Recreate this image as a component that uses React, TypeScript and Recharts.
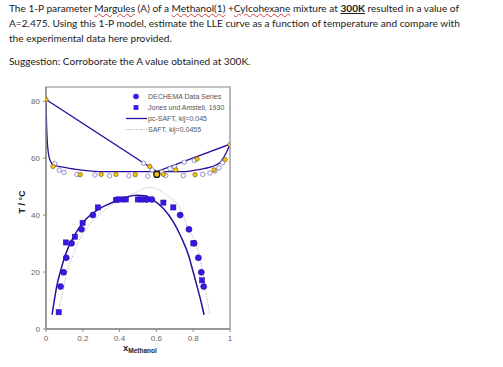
import React from "react";
import { ComposedChart, Line, Scatter, XAxis, YAxis, ReferenceArea, Label } from "recharts";

// x (mole fraction methanol), T (°C)
const pcSaftLLE: [number, number][] = [
  [0.033, 5], [0.045, 10], [0.06, 15.5], [0.078, 20.1], [0.105, 26], [0.15, 32.4],
  [0.204, 37.6], [0.277, 41.7], [0.367, 44.6], [0.44, 46.4], [0.49, 47], [0.54, 46.8],
  [0.575, 45.6], [0.638, 42.3], [0.692, 37.6], [0.738, 31.8], [0.774, 26], [0.8, 20],
  [0.825, 14], [0.843, 9.5], [0.859, 5],
];
const saftLLE: [number, number][] = [
  [0.06, 5], [0.096, 14.3], [0.114, 20.1], [0.141, 25], [0.168, 29.5], [0.222, 35.3],
  [0.304, 41.1], [0.385, 44.6], [0.457, 47], [0.512, 48.7], [0.56, 49.7], [0.6, 49.2],
  [0.656, 47], [0.729, 42.3], [0.774, 35.3], [0.81, 30.6], [0.837, 24.8], [0.855, 19],
  [0.873, 12], [0.89, 5],
];
const pcSaftBubble: [number, number][] = [
  [0, 80.6], [0.003, 72], [0.008, 65], [0.015, 61], [0.025, 58.8], [0.04, 57.6],
  [0.078, 57], [0.15, 56.2], [0.29, 55.3], [0.5, 55.3], [0.75, 55.3], [0.82, 55.9],
  [0.9, 57], [0.946, 58.5], [0.98, 62], [1, 64.9],
];
const pcSaftDew: [number, number][] = [[0, 80.6], [0.602, 55.3], [1, 64.9]];

const dechema: [number, number][] = [
  [0.079, 14.9], [0.096, 19.9], [0.11, 25], [0.139, 30.1], [0.193, 35], [0.255, 40],
  [0.389, 45.5], [0.548, 45.5], [0.575, 45.5], [0.729, 40], [0.777, 35], [0.805, 30.1],
  [0.828, 25], [0.844, 19.9], [0.857, 14.9],
];
const jones: [number, number][] = [
  [0.069, 5.9], [0.108, 30.4], [0.157, 32.4], [0.199, 37.3], [0.282, 42.7], [0.38, 45.3],
  [0.412, 45.5], [0.434, 45.5], [0.499, 45.5], [0.517, 45.5], [0.535, 45.5], [0.638, 44.4],
  [0.692, 42.7], [0.801, 30.1], [0.848, 17.1],
];
const vleOpen: [number, number][] = [
  [0.047, 58.1], [0.072, 55.8], [0.098, 55], [0.168, 54.3], [0.266, 54.1], [0.345, 53.8],
  [0.45, 53.8], [0.553, 53.7], [0.53, 58.2], [0.577, 55.9], [0.63, 55.1], [0.651, 53.9],
  [0.674, 56.3], [0.7, 56.9], [0.747, 53.9], [0.752, 58.6], [0.806, 59.2], [0.852, 54.3],
  [0.891, 54.8], [0.918, 55.5], [0.94, 56.6], [0.96, 58.4],
];
const vleYellow: [number, number][] = [
  [0, 80.6], [0.038, 57.1], [0.186, 54.2], [0.3, 54.3], [0.38, 54.3], [0.485, 54.2],
  [0.564, 57.1], [0.638, 54.3], [0.705, 55.9], [0.81, 54.2], [0.821, 59.7], [0.913, 55.9],
  [0.973, 59.5], [1, 64.7],
];
const azeotrope: [number, number][] = [[0.602, 54.3]];

const xTicks = [0, 0.2, 0.4, 0.6, 0.8, 1];
const yTicks = [0, 20, 40, 60, 80];

const toPts = (arr: [number, number][]) => arr.map(([x, T]) => ({ x, T }));

const LINE = "#2A0E9C";
const tickStyle = { fontSize: 8, fill: "#666", fontFamily: "Liberation Sans, Arial, sans-serif" };

const circleShape = (p: any) => (
  <circle cx={p.cx} cy={p.cy} r={3} fill="#3A17E4" stroke="#24109a" strokeWidth={0.6} />
);
const squareShape = (p: any) => (
  <rect x={p.cx - 2.6} y={p.cy - 2.6} width={5.2} height={5.2} fill="#3A17E4" stroke="#24109a" strokeWidth={0.5} />
);
const openShape = (p: any) => (
  <circle cx={p.cx} cy={p.cy} r={2.2} fill="#fff" stroke="#9490c6" strokeWidth={1} />
);
const yellowShape = (p: any) => (
  <circle cx={p.cx} cy={p.cy} r={2.2} fill="#F4C20F" stroke="#6a5600" strokeWidth={0.6} />
);
const azeoShape = (p: any) => (
  <circle cx={p.cx} cy={p.cy} r={3} fill="#F4C20F" stroke="#111" strokeWidth={1.2} />
);

const legendRows = [
  { name: "DECHEMA Data Series", kind: "circle" },
  { name: "Jones und Amstell, 1930", kind: "square" },
  { name: "pc-SAFT, kij=0.045", kind: "line" },
  { name: "SAFT, kij=0.0455", kind: "dot" },
];

const ChartLegend = () => (
  <div
    style={{
      position: "absolute",
      left: 126,
      top: 90.5,
      fontFamily: "Liberation Sans, Arial, sans-serif",
      fontSize: 7,
      color: "#555",
      whiteSpace: "nowrap",
    }}
  >
    {legendRows.map((r) => (
      <div key={r.name} style={{ display: "flex", alignItems: "center", height: 11 }}>
        <svg width={22} height={11}>
          {r.kind === "circle" && <circle cx={10} cy={5.5} r={2.8} fill="#3A17E4" />}
          {r.kind === "square" && <rect x={7.6} y={3.1} width={4.8} height={4.8} fill="#3A17E4" />}
          {r.kind === "line" && <line x1={0} x2={21} y1={5.5} y2={5.5} stroke={LINE} strokeWidth={1.3} />}
          {r.kind === "dot" && <line x1={0} x2={21} y1={5.5} y2={5.5} stroke="#888" strokeWidth={0.8} strokeDasharray="1 1.5" />}
        </svg>
        <span>{r.name}</span>
      </div>
    ))}
  </div>
);

const renderXLabel = (props: any) => {
  const vb = props.viewBox || {};
  const cx = vb.x + vb.width / 2;
  const y = vb.y + 22;
  return (
    <text x={cx - 15} y={y} fontFamily="Liberation Sans, Arial, sans-serif" fontWeight="bold" fill="#222">
      <tspan fontSize={9.5}>x</tspan>
      <tspan fontSize={6.5} dy={2}>Methanol</tspan>
    </text>
  );
};

const renderYLabel = (props: any) => {
  const vb = props.viewBox || {};
  const x = 23;
  const y = vb.y + vb.height / 2 - 6;
  return (
    <text
      x={x}
      y={y}
      transform={`rotate(-90, ${x}, ${y})`}
      textAnchor="middle"
      dominantBaseline="middle"
      fontFamily="Liberation Sans, Arial, sans-serif"
      fontWeight="bold"
      fontSize={9}
      fill="#222"
    >
      T / °C
    </text>
  );
};

const wavy: React.CSSProperties = {
  textDecorationLine: "underline",
  textDecorationStyle: "wavy",
  textDecorationColor: "#d04040",
  textDecorationThickness: 1,
};

export default function App() {
  return (
    <div style={{ position: "absolute", left: 0, top: 0, width: 503, height: 367, background: "#fff", overflow: "hidden" }}>
      <div
        style={{
          position: "absolute",
          left: 9,
          top: 1,
          width: 494,
          fontFamily: "Lato, 'Open Sans', sans-serif",
          fontSize: 10.1,
          lineHeight: "14.8px",
          color: "#1a1a1a",
          whiteSpace: "nowrap",
        }}
      >
        <div>
          The 1-P parameter <span style={wavy}>Margules</span> (A) of a <span style={wavy}>Methanol(1)</span>{" "}
          +<span style={wavy}>Cylcohexane</span> mixture at{" "}
          <b style={{ textDecoration: "underline" }}>300K</b> resulted in a value of
        </div>
        <div>A=2.475. Using this 1-P model, estimate the LLE curve as a function of temperature and compare with</div>
        <div>the experimental data here provided.</div>
        <div style={{ marginTop: 8.5 }}>Suggestion: Corroborate the A value obtained at 300K.</div>
      </div>

      <div style={{ position: "absolute", left: 0, top: 80 }}>
        <ComposedChart width={250} height={287} margin={{ top: 7, right: 20, bottom: 8, left: 16 }}>
          <XAxis
            type="number"
            dataKey="x"
            domain={[0, 1]}
            ticks={xTicks}
            allowDataOverflow
            tick={tickStyle}
            tickSize={3}
            tickMargin={3}
            height={30}
            axisLine={{ stroke: "#888", strokeWidth: 1.3 }}
            tickLine={{ stroke: "#888" }}
          >
            <Label content={renderXLabel} />
          </XAxis>
          <YAxis
            type="number"
            dataKey="T"
            domain={[0, 85]}
            ticks={yTicks}
            allowDataOverflow
            tick={tickStyle}
            tickSize={3}
            tickMargin={3}
            width={30}
            axisLine={{ stroke: "#888", strokeWidth: 1.3 }}
            tickLine={{ stroke: "#888" }}
          >
            <Label content={renderYLabel} />
          </YAxis>
          <ReferenceArea x1={0} x2={1} y1={0} y2={85} fill="none" stroke="#888" strokeWidth={1.2} ifOverflow="visible" />
          <Line data={toPts(saftLLE)} dataKey="T" name="SAFT, kij=0.0455" type="monotoneX" stroke="#999" strokeWidth={0.9} strokeDasharray="1 1.6" dot={false} isAnimationActive={false} />
          <Line data={toPts(pcSaftLLE)} dataKey="T" name="pc-SAFT, kij=0.045" type="monotoneX" stroke={LINE} strokeWidth={1.5} dot={false} isAnimationActive={false} />
          <Line data={toPts(pcSaftBubble)} dataKey="T" name="pc-SAFT bubble" type="monotoneX" stroke={LINE} strokeWidth={1.3} dot={false} isAnimationActive={false} />
          <Line data={toPts(pcSaftDew)} dataKey="T" name="pc-SAFT dew" type="linear" stroke={LINE} strokeWidth={1.3} dot={false} isAnimationActive={false} />
          <Scatter data={toPts(vleOpen)} name="VLE open" shape={openShape} isAnimationActive={false} />
          <Scatter data={toPts(vleYellow)} name="VLE yellow" shape={yellowShape} isAnimationActive={false} />
          <Scatter data={toPts(azeotrope)} name="azeotrope" shape={azeoShape} isAnimationActive={false} />
          <Scatter data={toPts(jones)} name="Jones und Amstell, 1930" shape={squareShape} isAnimationActive={false} />
          <Scatter data={toPts(dechema)} name="DECHEMA Data Series" shape={circleShape} isAnimationActive={false} />
        </ComposedChart>
      </div>
      <ChartLegend />
    </div>
  );
}
